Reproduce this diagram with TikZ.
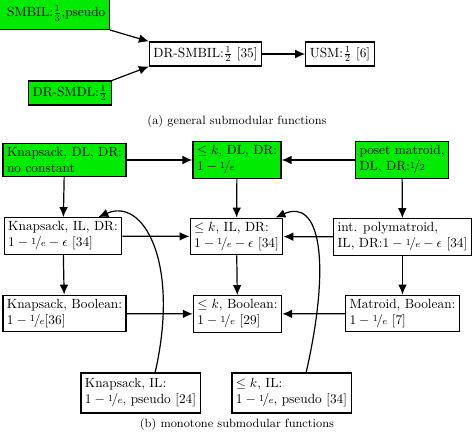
\documentclass[tikz,border=0pt]{standalone}
\usepackage{amsmath,amssymb}
\usepackage{nicefrac}
\usepackage{tikz}
\usetikzlibrary{arrows.meta,positioning}
\usepackage{xcolor}

\tikzset{
  box/.style={draw, line width=0.9pt, align=left, inner sep=3pt, fill=white},
  greenbox/.style={box, fill=green!92!black},
  link/.style={line width=0.9pt, -{Latex[length=7.5pt,width=6.5pt]}}
}

\begin{document}
\begin{tikzpicture}[x=0.75pt,y=-0.75pt]
\useasboundingbox (0,0) rectangle (474,432);
% (a) general
\node (smbil) at (110,30) [greenbox, anchor=south east, minimum height=24pt, text width=84pt, align=right] {SMBIL:$\frac{1}{3}$,pseudo};
\node (drsmdl) at (70,93) [greenbox] {DR-SMDL:$\frac{1}{2}$};
\node (drsmbil) at (205.5,54) [box] {DR-SMBIL:$\frac{1}{2}$ [35]};
\node (usm) at (340,54) [box] {USM:$\frac{1}{2}$ [6]};
\node (capa) at (237,121) {\small (a) general submodular functions};
\draw [link] (smbil.south east) -- (drsmbil.north west);
\draw [link] (drsmdl.north east) -- (drsmbil.south west);
\draw [link] (drsmbil) -- (usm);
% (b) monotone
\node (kndl) at (64.5,160) [greenbox] {Knapsack, DL, DR:\\no constant};
\node (kdl) at (237,160) [greenbox] {$\leq k$, DL, DR:\\$1-\nicefrac{1}{e}$};
\node (posetdl) at (402,160) [greenbox] {poset matroid,\\DL, DR:$\nicefrac{1}{2}$};
\node (knil) at (63,236) [box] {Knapsack, IL, DR:\\$1-\nicefrac{1}{e}-\epsilon$ [34]};
\node (kil) at (236.5,236.5) [box] {$\leq k$, IL, DR:\\$1-\nicefrac{1}{e}-\epsilon$ [34]};
\node (polyil) at (402.5,237) [box] {int. polymatroid,\\IL, DR:$1-\nicefrac{1}{e}-\epsilon$ [34]};
\node (knbool) at (64.5,313.5) [box] {Knapsack, Boolean:\\$1-\nicefrac{1}{e}$[36]};
\node (kbool) at (237.5,314) [box] {$\leq k$, Boolean:\\$1-\nicefrac{1}{e}$ [29]};
\node (matbool) at (402.5,313.5) [box] {Matroid, Boolean:\\$1-\nicefrac{1}{e}$ [7]};
\node (knilp) at (140.5,393) [box, minimum height=30pt] {Knapsack, IL:\\$1-\nicefrac{1}{e}$, pseudo [24]};
\node (kilp) at (291.5,393) [box, minimum height=30pt] {$\leq k$, IL:\\$1-\nicefrac{1}{e}$, pseudo [34]};
\node (capb) at (237,424.5) {\small (b) monotone submodular functions};
\draw [link] (kndl) -- (kdl);
\draw [link] (posetdl) -- (kdl);
\draw [link] (kndl) -- (knil);
\draw [link] (kdl) -- (kil);
\draw [link] (posetdl) -- (polyil);
\draw [link] (knil) -- (kil);
\draw [link] (polyil) -- (kil);
\draw [link] (knil) -- (knbool);
\draw [link] (kil) -- (kbool);
\draw [link] (polyil) -- (matbool);
\draw [link] (knbool) -- (kbool);
\draw [link] (matbool) -- (kbool);
\draw [link] ([xshift=11pt]knilp.north) .. controls +(25,-110) and +(45,-20) .. ([xshift=-18pt]knil.north east);
\draw [link] ([xshift=11pt]kilp.north) .. controls +(25,-110) and +(45,-20) .. ([xshift=-6pt]kil.north east);
\end{tikzpicture}
\end{document}
